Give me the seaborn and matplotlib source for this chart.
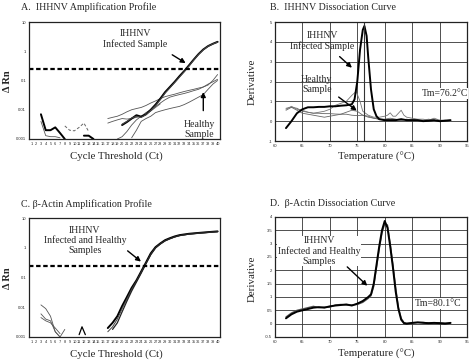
import matplotlib
matplotlib.use("Agg")
import matplotlib.pyplot as plt
import seaborn as sns
import numpy as np
import pandas as pd

# ---------------- data ----------------
# A. IHHNV amplification profile (cycle, delta Rn)
inf_cyc = [20, 21, 22, 23, 24, 25, 26, 27, 28, 29, 30, 31, 32, 33, 34, 35, 36, 37, 38, 39, 40]
inf_rn1 = [0.003, 0.0038, 0.005, 0.0065, 0.0058, 0.007, 0.01, 0.015, 0.024, 0.04, 0.06,
           0.09, 0.14, 0.21, 0.33, 0.52, 0.8, 1.15, 1.5, 1.8, 2.1]
inf_rn2 = [0.0032, 0.004, 0.0052, 0.006, 0.0055, 0.0068, 0.0095, 0.014, 0.022, 0.037, 0.056,
           0.085, 0.13, 0.2, 0.31, 0.5, 0.78, 1.12, 1.48, 1.78, 2.05]

h1_cyc = [17, 18, 19, 20, 21, 22, 23, 24, 25, 26, 27, 28, 29, 30, 31, 32, 33, 34, 35, 36, 37, 38, 39, 40]
h1_rn = [0.005, 0.0055, 0.006, 0.007, 0.0085, 0.01, 0.011, 0.012, 0.014, 0.017, 0.02, 0.024,
         0.028, 0.031, 0.034, 0.038, 0.042, 0.046, 0.05, 0.055, 0.06, 0.07, 0.1, 0.16]
h2_rn = [0.0035, 0.004, 0.0045, 0.005, 0.0048, 0.005, 0.0055, 0.006, 0.008, 0.01, 0.013, 0.017,
         0.022, 0.027, 0.03, 0.033, 0.036, 0.04, 0.045, 0.05, 0.06, 0.075, 0.09, 0.11]
h3_cyc = [22, 23, 24, 25, 26, 27, 28, 29, 30, 31, 32, 33, 34, 35, 36, 37, 38, 39, 40]
h3_rn = [0.0011, 0.002, 0.004, 0.005, 0.006, 0.008, 0.009, 0.01, 0.011, 0.012, 0.013, 0.015,
         0.018, 0.022, 0.027, 0.033, 0.05, 0.075, 0.1]
h4_cyc = [19, 20, 21, 22, 23, 24, 25, 26, 27, 28]
h4_rn = [0.001, 0.0012, 0.0018, 0.003, 0.0045, 0.006, 0.007, 0.009, 0.012, 0.016]

n1_cyc = [3, 4, 5, 6, 7, 8]
n1_rn = [0.007, 0.002, 0.002, 0.0025, 0.0016, 0.001]
n2_cyc = [3, 4, 5, 6, 7]
n2_rn = [0.004, 0.0013, 0.0012, 0.0012, 0.0011]
n3_cyc = [8, 9, 10, 11, 12, 13]
n3_rn = [0.0028, 0.002, 0.0019, 0.0025, 0.0035, 0.0018]
n4_cyc = [12, 13, 14]
n4_rn = [0.0013, 0.0013, 0.001]

threshold = 0.25

# B. IHHNV dissociation curve (temperature, derivative)
bi_t = [62, 63, 64, 65, 66, 67, 68, 69, 70, 71, 72, 73, 74, 74.5, 75, 75.5, 76, 76.3, 76.7, 77,
        77.5, 78, 78.5, 79, 80, 81, 82, 83, 84, 85, 86, 87, 88, 89, 90, 91, 92]
bi_d = [-0.35, 0.0, 0.4, 0.6, 0.7, 0.7, 0.72, 0.72, 0.75, 0.75, 0.78, 0.8, 0.85, 1.1, 2.0, 3.6,
        4.6, 4.8, 4.3, 3.2, 1.6, 0.6, 0.25, 0.1, 0.05, 0.05, 0.05, 0.1, 0.05, 0.05, 0.05, 0.0,
        0.02, 0.05, 0.0, 0.02, 0.05]
bh_t = [62, 63, 64, 65, 66, 67, 68, 69, 70, 71, 72, 73, 74, 75, 76, 77, 78, 79, 80, 81, 82,
        83, 84, 85, 86, 87, 88, 89, 90, 91, 92]
bh1_d = [0.55, 0.7, 0.65, 0.5, 0.45, 0.4, 0.4, 0.38, 0.38, 0.36, 0.35, 0.35, 0.3, 0.28, 0.3,
         0.25, 0.15, 0.1, 0.05, 0.1, 0.08, 0.05, 0.1, 0.05, 0.05, 0.0, 0.05, 0.0, 0.05, 0.0, 0.05]
bh3_d = [0.65, 0.7, 0.55, 0.4, 0.35, 0.3, 0.25, 0.2, 0.25, 0.3, 0.35, 0.45, 0.55, 0.5, 0.3,
         0.2, 0.15, 0.1, 0.1, 0.15, 0.1, 0.05, 0.08, 0.1, 0.05, 0.05, 0.1, 0.05, 0.0, 0.05, 0.05]
bh2_t = [62, 63, 64, 65, 66, 67, 68, 69, 70, 71, 72, 73, 74, 74.8, 75.5, 76, 77, 78, 79, 80,
         80.5, 81, 81.5, 82, 82.5, 83, 83.5, 84, 85, 86, 87, 88, 89, 90, 91, 92]
bh2_d = [0.6, 0.75, 0.6, 0.55, 0.45, 0.4, 0.45, 0.5, 0.6, 0.8, 0.9, 1.0, 1.3, 1.5, 1.0, 0.5,
         0.3, 0.2, 0.2, 0.25, 0.3, 0.42, 0.25, 0.25, 0.4, 0.55, 0.3, 0.2, 0.15, 0.1, 0.1, 0.05,
         0.15, 0.05, 0.05, 0.0]

# C. beta-actin amplification profile
ac_cyc = [17, 18, 19, 20, 21, 22, 23, 24, 25, 26, 27, 28, 29, 30, 31, 32, 33, 34, 35, 36, 37, 38, 39, 40]
ac_rn1 = [0.002, 0.003, 0.005, 0.011, 0.022, 0.045, 0.08, 0.16, 0.32, 0.65, 1.05, 1.4, 1.8,
          2.1, 2.4, 2.65, 2.8, 2.95, 3.05, 3.15, 3.25, 3.35, 3.45, 3.55]
ac_rn2 = [0.0015, 0.0022, 0.004, 0.009, 0.019, 0.04, 0.075, 0.15, 0.3, 0.6, 1.0, 1.35, 1.72,
          2.0, 2.3, 2.55, 2.7, 2.85, 2.95, 3.05, 3.15, 3.25, 3.35, 3.45]
ac_cyc3 = [18, 19, 20, 21, 22, 23, 24, 25, 26, 27, 28, 29, 30, 31, 32, 33, 34, 35, 36, 37, 38, 39, 40]
ac_rn3 = [0.0018, 0.003, 0.007, 0.016, 0.035, 0.07, 0.14, 0.29, 0.58, 0.98, 1.33, 1.7, 2.0,
          2.3, 2.55, 2.72, 2.88, 3.0, 3.1, 3.2, 3.3, 3.4, 3.5]
cn1_cyc = [3, 4, 5, 6, 7, 8]
cn1_rn = [0.012, 0.009, 0.005, 0.0015, 0.001, 0.0018]
cn2_cyc = [3, 4, 5, 6, 7]
cn2_rn = [0.006, 0.004, 0.0035, 0.0015, 0.001]
cn3_rn = [0.0045, 0.0035, 0.003, 0.002, 0.0013]
cn4_cyc = [11, 11.6, 12.3]
cn4_rn = [0.0012, 0.0022, 0.0012]

# D. beta-actin dissociation curve
da_t = [62, 63, 64, 65, 66, 67, 68, 69, 70, 71, 72, 73, 74, 75, 76, 77, 77.5, 78, 78.5, 79,
        79.5, 80, 80.5, 81, 81.5, 82, 82.5, 83, 83.5, 84, 85, 86, 87, 88, 89, 90, 91, 92]
da_d1 = [0.2, 0.35, 0.45, 0.5, 0.55, 0.6, 0.62, 0.6, 0.65, 0.68, 0.7, 0.72, 0.68, 0.75, 0.85,
         1.0, 1.1, 1.5, 2.2, 2.9, 3.5, 3.85, 3.6, 2.9, 2.1, 1.2, 0.55, 0.15, 0.02, 0.0, 0.03,
         0.05, 0.03, 0.02, 0.03, 0.02, 0.0, 0.03]
da_d2 = [0.25, 0.4, 0.5, 0.55, 0.6, 0.65, 0.6, 0.62, 0.62, 0.7, 0.72, 0.7, 0.7, 0.72, 0.8,
         0.95, 1.05, 1.4, 2.1, 2.8, 3.4, 3.75, 3.7, 3.0, 2.2, 1.35, 0.6, 0.2, 0.04, 0.01, 0.02,
         0.04, 0.05, 0.02, 0.02, 0.03, 0.02, 0.02]

cycles = list(range(1, 41))
temp_ticks = [60, 65, 70, 75, 80, 85, 90, 95]

# ---------------- figure ----------------
sns.set_style("white")
serif = ["Liberation Serif", "DejaVu Serif"]
plt.rcParams["font.family"] = ["Liberation Sans", "DejaVu Sans"]

fig = plt.figure(figsize=(4.74, 3.62), dpi=100)
W, H = 474, 362


def add_ax(l, t, r, b):
    return fig.add_axes([l / W, 1 - b / H, (r - l) / W, (b - t) / H])


axA = add_ax(29, 22, 220, 139)
axB = add_ax(275, 22, 467, 141)
axC = add_ax(29, 218, 220, 337)
axD = add_ax(275, 217, 467, 337)

thin = dict(color="#555555", linewidth=0.6)
thick = dict(color="black", linewidth=1.4)
arrow = dict(arrowstyle="-|>", color="black", lw=1.0, mutation_scale=7)


def line(ax, x, y, **kw):
    sns.lineplot(x=x, y=y, ax=ax, legend=False, **kw)


def amp_axes(ax):
    ax.set_yscale("log")
    ax.set_xlim(0.5, 40.5)
    ax.set_ylim(0.001, 10)
    ax.set_xticks(cycles)
    ax.set_xticklabels([str(c) for c in cycles], fontsize=2.8)
    ax.set_yticks([0.001, 0.01, 0.1, 1, 10])
    ax.set_yticklabels(["0.001", "0.01", "0.1", "1", "10"], fontsize=3)
    ax.minorticks_off()
    ax.axhline(threshold, color="black", linewidth=1.6, dashes=(2, 1.2))
    ax.tick_params(length=0, pad=2)
    ax.set_xlabel("")
    ax.set_ylabel("")


def diss_axes(ax, ymin, ymax, ystep, labels):
    ax.set_xlim(60, 95)
    ax.set_ylim(ymin, ymax)
    ax.set_xticks(temp_ticks)
    ax.set_xticklabels([str(t) for t in temp_ticks], fontsize=3)
    yt = np.arange(ymin, ymax + ystep / 2, ystep)
    ax.set_yticks(yt)
    ax.set_yticklabels(labels, fontsize=3)
    ax.grid(True, color="#333333", linewidth=0.6)
    ax.tick_params(length=0, pad=2)
    ax.set_xlabel("")
    ax.set_ylabel("")


for ax in (axA, axB, axC, axD):
    for s in ax.spines.values():
        s.set_color("#222222")
        s.set_linewidth(0.9)

# A
line(axA, h1_cyc, h1_rn, **thin)
line(axA, h1_cyc, h2_rn, **thin)
line(axA, h3_cyc, h3_rn, **thin)
line(axA, h4_cyc, h4_rn, **thin)
line(axA, inf_cyc, inf_rn1, **thick)
line(axA, inf_cyc, inf_rn2, color="#444444", linewidth=0.8)
line(axA, n1_cyc, n1_rn, **thick)
line(axA, n2_cyc, n2_rn, **thin)
line(axA, n3_cyc, n3_rn, color="#666666", linewidth=0.7, dashes=(3, 2))
line(axA, n4_cyc, n4_rn, **thick)
amp_axes(axA)
axA.text(22.7, 2.6, "IHHNV\nInfected Sample", ha="center", va="center",
         fontsize=7, family=serif, linespacing=1.15)
axA.annotate("", xy=(33.8, 0.35), xytext=(30.0, 0.85), arrowprops=arrow)
axA.text(36.2, 0.0021, "Healthy\nSample", ha="center", va="center",
         fontsize=7, family=serif, linespacing=1.15)
axA.annotate("", xy=(37.0, 0.05), xytext=(37.0, 0.0075), arrowprops=arrow)

# B
line(axB, bh_t, bh1_d, color="#666666", linewidth=0.6)
line(axB, bh_t, bh3_d, color="#666666", linewidth=0.6)
line(axB, bh2_t, bh2_d, color="#777777", linewidth=0.6)
line(axB, bi_t, bi_d, **thick)
diss_axes(axB, -1, 5, 1, ["-1", "0", "1", "2", "3", "4", "5"])
axB.axvline(76.2, color="#333333", linewidth=0.8)
axB.text(68.6, 4.05, "IHHNV\nInfected Sample", ha="center", va="center",
         fontsize=7, family=serif, linespacing=1.15)
axB.annotate("", xy=(74.4, 2.6), xytext=(71.4, 3.35), arrowprops=arrow)
axB.text(67.6, 1.85, "Healthy\nSample", ha="center", va="center",
         fontsize=7, family=serif, linespacing=1.15)
axB.annotate("", xy=(75.3, 0.45), xytext=(71.2, 1.3), arrowprops=arrow)
axB.text(90.9, 1.4, "Tm=76.2°C", ha="center", va="center", fontsize=7, family=serif,
         bbox=dict(facecolor="white", edgecolor="none", pad=0.5))

# C
line(axC, ac_cyc, ac_rn1, **thick)
line(axC, ac_cyc, ac_rn2, color="#444444", linewidth=0.7)
line(axC, ac_cyc3, ac_rn3, color="#222222", linewidth=0.9)
line(axC, cn1_cyc, cn1_rn, **thin)
line(axC, cn2_cyc, cn2_rn, **thin)
line(axC, cn2_cyc, cn3_rn, **thin)
line(axC, cn4_cyc, cn4_rn, color="black", linewidth=0.9)
amp_axes(axC)
axC.text(12.2, 1.75, "IHHNV\nInfected and Healthy\nSamples", ha="center", va="center",
         fontsize=7, family=serif, linespacing=1.15)
axC.annotate("", xy=(24.4, 0.3), xytext=(20.7, 0.9), arrowprops=arrow)

# D
line(axD, da_t, da_d2, color="#555555", linewidth=1.0)
line(axD, da_t, da_d1, **thick)
diss_axes(axD, -0.5, 4, 0.5, ["-0.5", "0", "0.5", "1", "1.5", "2", "2.5", "3", "3.5", "4"])
axD.text(68.0, 2.72, "IHHNV\nInfected and Healthy\nSamples", ha="center", va="center",
         fontsize=7, family=serif, linespacing=1.15,
         bbox=dict(facecolor="white", edgecolor="none", pad=0.3))
axD.annotate("", xy=(77.2, 1.35), xytext=(72.8, 2.2), arrowprops=arrow)
axD.text(89.8, 0.76, "Tm=80.1°C", ha="center", va="center", fontsize=7, family=serif,
         bbox=dict(facecolor="white", edgecolor="none", pad=0.5))


# titles and axis labels placed as in the reference
def ftext(x, y, s, **kw):
    fig.text(x / W, 1 - y / H, s, family=serif, **kw)


ftext(21, 7, "A.  IHHNV Amplification Profile", fontsize=7.2, va="center")
ftext(270, 7, "B.  IHHNV Dissociation Curve", fontsize=7.2, va="center")
ftext(21, 204, "C. β-Actin Amplification Profile", fontsize=7.2, va="center")
ftext(270, 204, "D.  β-Actin Dissociation Curve", fontsize=7.2, va="center")
ftext(116, 156, "Cycle Threshold (Ct)", fontsize=7.8, ha="center", va="center")
ftext(116, 354, "Cycle Threshold (Ct)", fontsize=7.8, ha="center", va="center")
ftext(376, 157, "Temperature (°C)", fontsize=7.8, ha="center", va="center")
ftext(376, 354, "Temperature (°C)", fontsize=7.8, ha="center", va="center")
ftext(8, 81, "Δ Rn", fontsize=7.5, ha="center", va="center", rotation=90, weight="bold")
ftext(8, 278, "Δ Rn", fontsize=7.5, ha="center", va="center", rotation=90, weight="bold")
ftext(252, 82, "Derivative", fontsize=7.8, ha="center", va="center", rotation=90)
ftext(252, 279, "Derivative", fontsize=7.8, ha="center", va="center", rotation=90)

fig.savefig("out.png", dpi=100)
